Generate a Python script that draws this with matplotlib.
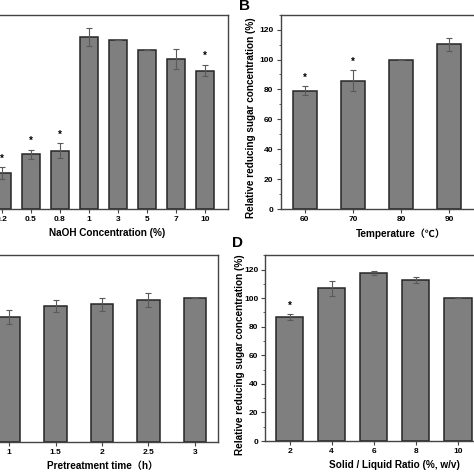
import matplotlib
matplotlib.use("Agg")
import matplotlib.pyplot as plt
from matplotlib.ticker import MultipleLocator

plt.rcParams['font.family'] = ['Liberation Sans', 'Noto Sans CJK SC', 'DejaVu Sans']
plt.rcParams['font.weight'] = 'bold'

# panel A - NaOH concentration
naoh_labels = ['0.2', '0.5', '0.8', '1', '3', '5', '7', '10']
naoh_vals = [24.0, 36.6, 39.0, 115.3, 113.1, 106.4, 100.6, 92.8]
naoh_err = [4.0, 3.1, 5.0, 5.8, 0.0, 0.0, 6.9, 3.9]
naoh_sig = [True, True, True, False, False, False, False, True]

# panel B - temperature (last category is outside the crop)
temp_labels = ['60', '70', '80', '90']
temp_vals = [79.2, 85.9, 100.0, 110.2]
temp_err = [3.0, 7.0, 0.0, 4.5]
temp_sig = [True, True, False, False]

# panel C - pretreatment time
time_labels = ['1', '1.5', '2', '2.5', '3']
time_vals = [86.8, 94.4, 95.8, 98.8, 100.0]
time_err = [4.9, 4.2, 4.3, 5.1, 0.0]
time_sig = [False, False, False, False, False]

# panel D - solid/liquid ratio (last category is outside the crop)
ratio_labels = ['2', '4', '6', '8', '10']
ratio_vals = [86.7, 106.9, 117.6, 112.7, 100.0]
ratio_err = [2.3, 5.4, 1.4, 2.1, 0.0]
ratio_sig = [True, False, False, False, False]

ylab = 'Relative reducing sugar concentration (%)'
W = 474.0

fig = plt.figure(figsize=(4.74, 4.74), dpi=100)


def px_axes(left, top, right, bottom):
    # pixel box -> figure fraction
    return fig.add_axes([left / W, 1 - bottom / W, (right - left) / W, (bottom - top) / W])


def panel(ax, labels, vals, err, sig, width, xlim, xlabel, ylabel=None, ylab_pos=None):
    x = list(range(len(labels)))
    ax.bar(x, vals, width=width, color='#7f7f7f', edgecolor='#262626', linewidth=1.1, zorder=2)
    ax.errorbar(x, vals, yerr=err, fmt='none', ecolor='#5a5a5a', elinewidth=0.8,
                capsize=2, capthick=0.8, zorder=3)
    for xi, v, e, s in zip(x, vals, err, sig):
        if s:
            ax.annotate('*', (xi, v + e + 7.5), xytext=(0, -4), textcoords='offset points',
                        ha='center', va='baseline', fontsize=7, fontweight='bold')
    ax.set_xlim(*xlim)
    ax.set_ylim(0, 130)
    ax.set_xticks(x)
    ax.set_xticklabels(labels)
    ax.yaxis.set_major_locator(MultipleLocator(20))
    ax.yaxis.set_minor_locator(MultipleLocator(10))
    ax.tick_params(axis='both', which='major', labelsize=6, length=3, width=0.8,
                   color='#444444', pad=2)
    ax.tick_params(axis='y', which='minor', length=1.5, width=0.6, color='#444444')
    ax.tick_params(axis='x', which='minor', bottom=False)
    for sp in ax.spines.values():
        sp.set_color('#444444')
        sp.set_linewidth(1.0)
    ax.set_xlabel(xlabel, fontsize=7.2, fontweight='bold', labelpad=4)
    if ylabel:
        ax.set_ylabel(ylabel, fontsize=7.2, fontweight='bold')
        ax.yaxis.set_label_coords(*ylab_pos)
    else:
        # y axis of this panel lies outside the crop
        ax.tick_params(axis='y', which='both', left=False, labelleft=False)


axA = px_axes(-13, 15, 228, 209)
panel(axA, naoh_labels, naoh_vals, naoh_err, naoh_sig, 0.62, (-0.51, 7.79),
      'NaOH Concentration (%)')

axB = px_axes(280.5, 14.7, 521.8, 209)
panel(axB, temp_labels, temp_vals, temp_err, temp_sig, 0.5, (-0.5, 4.5),
      'Temperature（℃）', ylab, (-0.100, 0.469))

axC = px_axes(-14, 255.3, 218, 441.7)
panel(axC, time_labels, time_vals, time_err, time_sig, 0.48, (-0.5, 4.5),
      'Pretreatment time（h）')

axD = px_axes(265.3, 255.3, 524.3, 441)
panel(axD, ratio_labels, ratio_vals, ratio_err, ratio_sig, 0.65, (-0.58, 5.58),
      'Solid / Liquid Ratio (%, w/v)', ylab, (-0.080, 0.466))

fig.text(239.5 / W, 1 - 10.5 / W, 'B', fontsize=11, fontweight='bold', ha='left', va='baseline')
fig.text(231.7 / W, 1 - 246.7 / W, 'D', fontsize=11, fontweight='bold', ha='left', va='baseline')

fig.savefig('out.png', dpi=100)
